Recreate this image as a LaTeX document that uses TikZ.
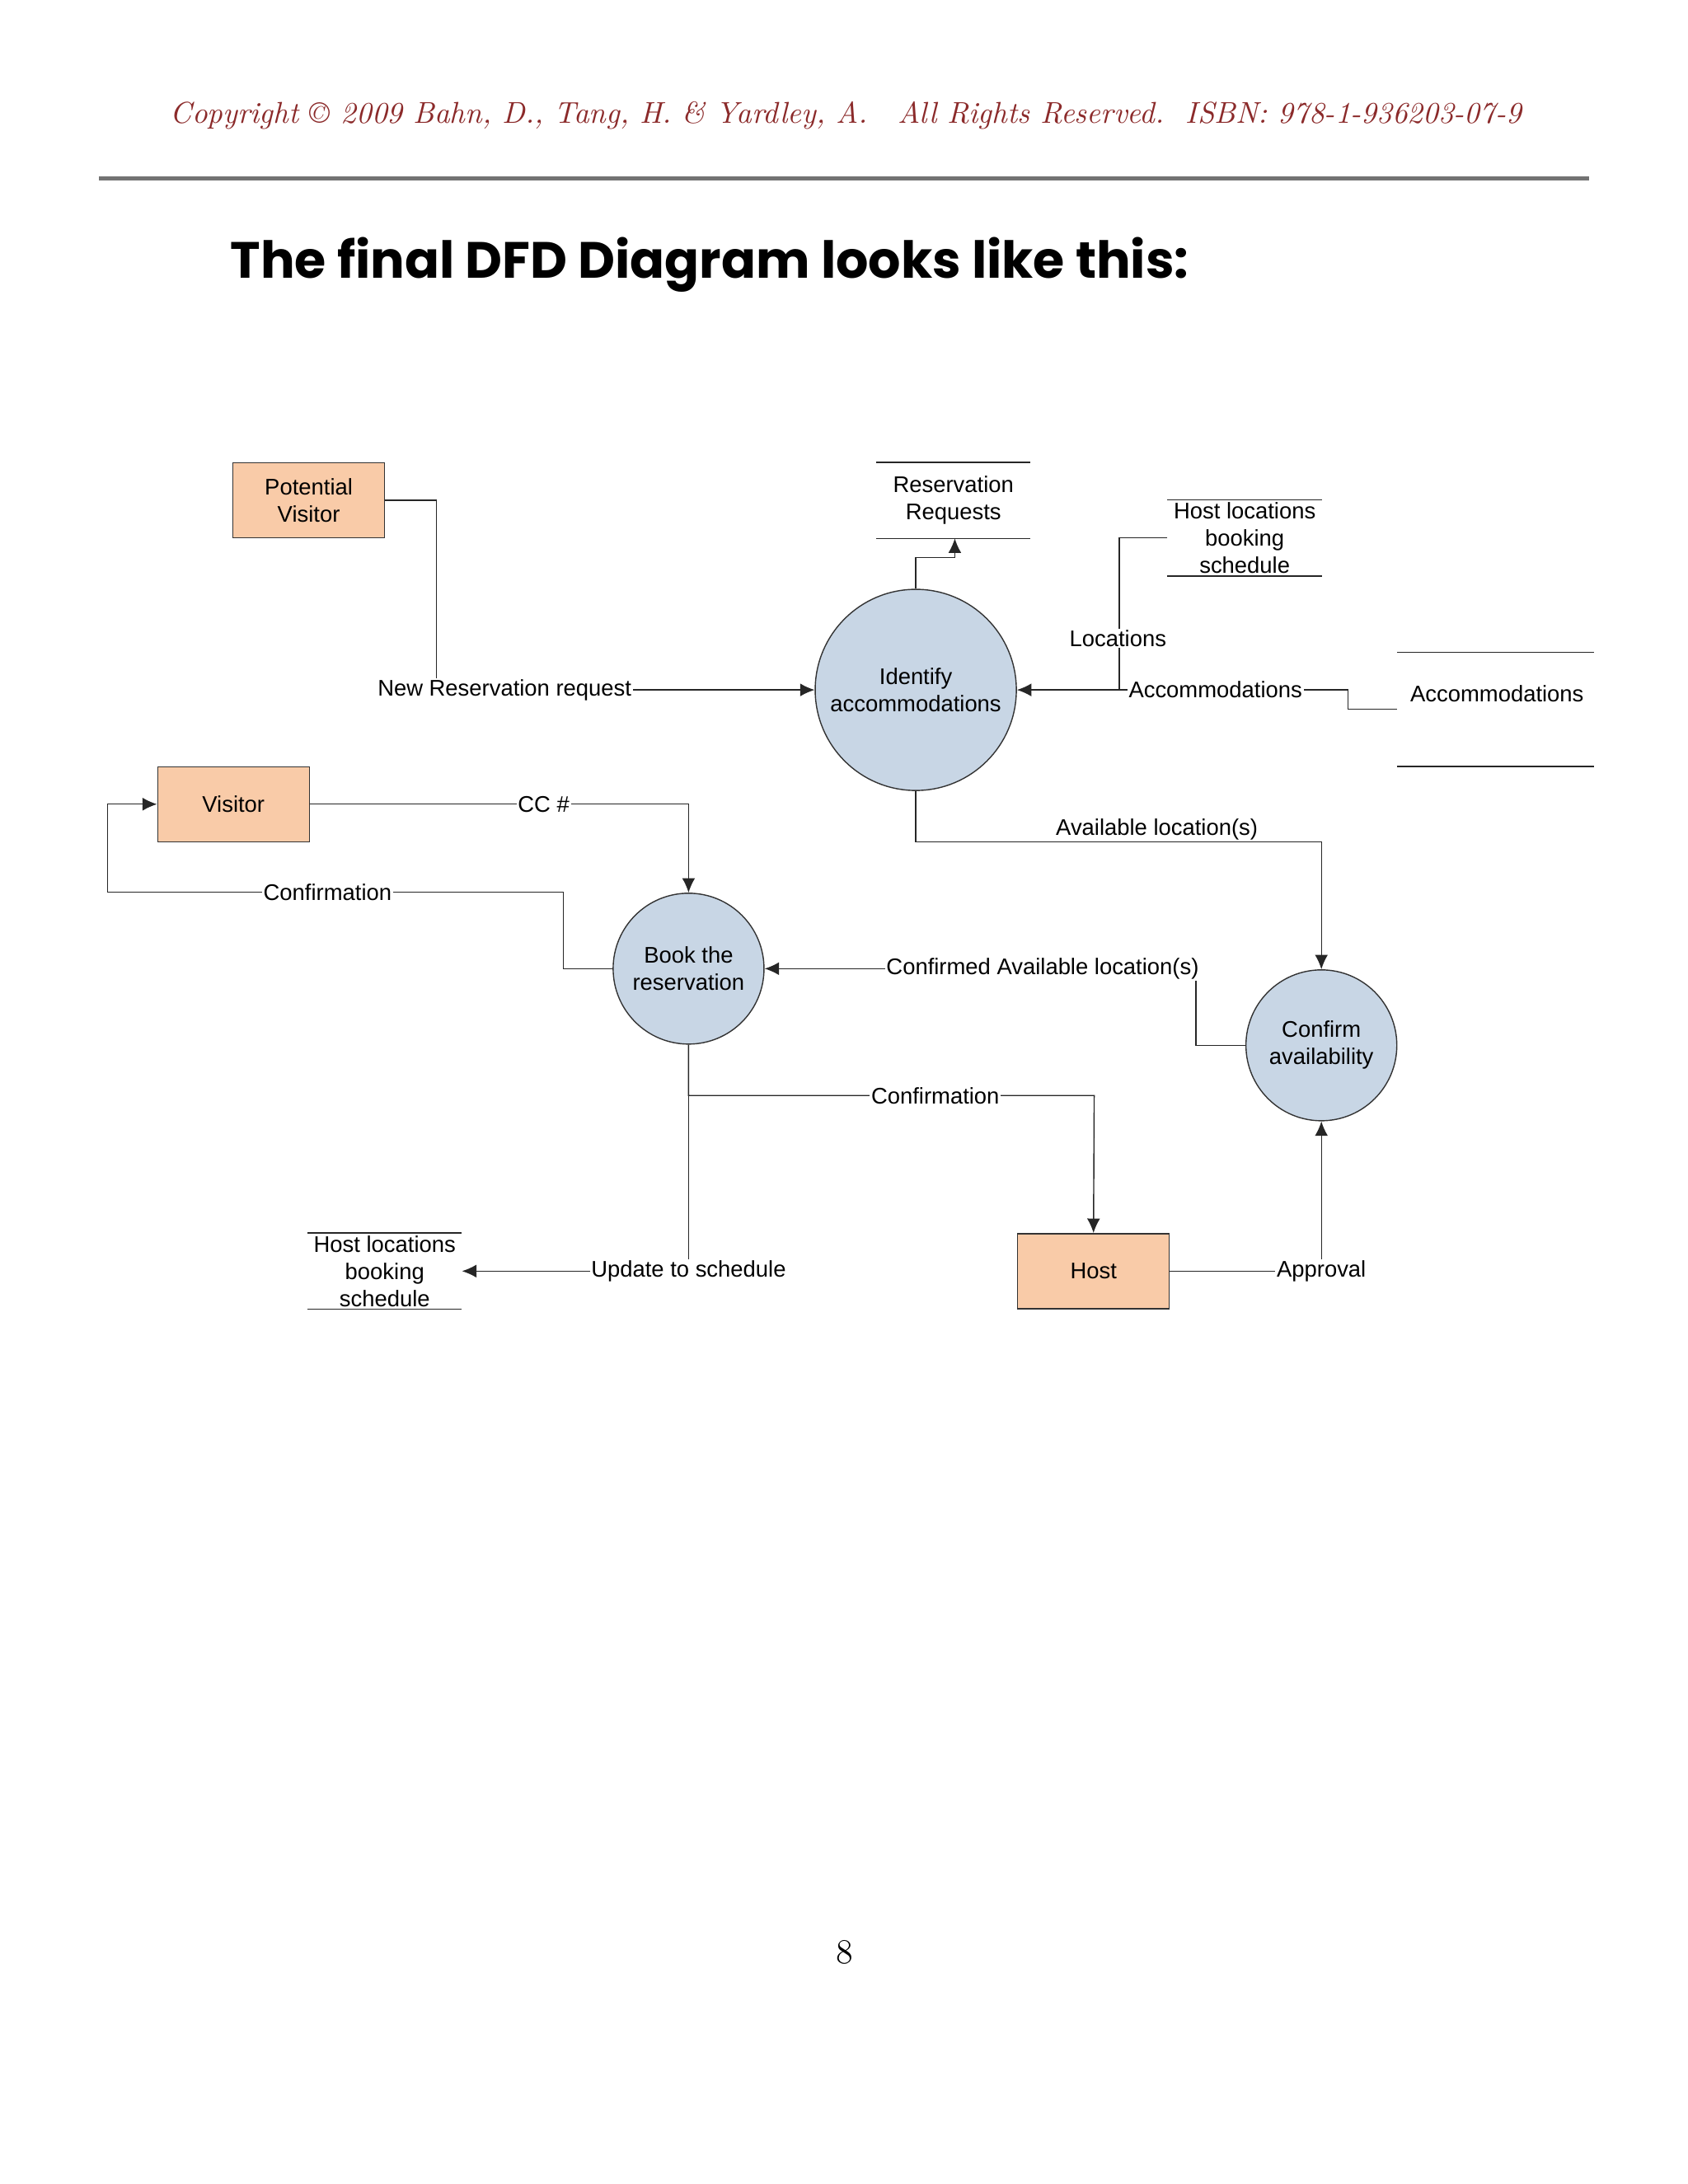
\documentclass[tikz,border=0pt]{standalone}
\usepackage{fontspec}
\setmainfont{Latin Modern Roman}
\newfontfamily\dfdfont{Liberation Sans}
\newfontfamily\titlefont{Poppins}
\usetikzlibrary{arrows.meta}

\definecolor{entityfill}{HTML}{F9CBA8}
\definecolor{processfill}{HTML}{C8D6E5}
\definecolor{headred}{HTML}{8B2A2A}

\tikzset{
  entity/.style={draw=black!80, fill=entityfill, minimum width=1.84cm, minimum height=0.91cm, align=center},
  process/.style={circle, draw=black!80, fill=processfill, align=center, inner sep=0pt},
  store/.style={minimum width=1.86cm, minimum height=0.91cm, align=center, inner sep=0pt},
  flow/.style={draw=black!85, -{Latex[length=5pt,width=4.5pt]}},
  line/.style={draw=black!85},
  lbl/.style={fill=white, inner sep=0.5pt}
}

\begin{document}
\begin{tikzpicture}[x=0.01691cm, y=-0.01691cm]
\tikzstyle{every node}=[font=\dfdfont\fontsize{7.8}{9.4}\selectfont]
\useasboundingbox (0,0) rectangle (1211,1567);

% page header
\node[font=\itshape\fontsize{10.4}{12}\selectfont, text=headred] (copy) at (607,83)
  {Copyright \textcopyright{} 2009 Bahn, D., Tang, H. \& Yardley, A.\quad All Rights Reserved.\ \ ISBN: 978-1-936203-07-9};
\draw[black!55, line width=1.4pt] (71,128) -- (1140,128);
\node[font=\titlefont\bfseries\fontsize{17.6}{20}\selectfont, anchor=west] (title) at (158,190)
  {The final DFD Diagram looks like this:};
\node[font=\rmfamily\fontsize{12}{14}\selectfont] (pagenum) at (606,1401) {8};

% external entities
\node[entity] (potential) at (221.5,359) {Potential\\Visitor};
\node[entity] (visitor) at (167.5,577) {Visitor};
\node[entity] (host) at (784.5,912) {Host};

% processes
\node[process, minimum size=2.44cm] (identify) at (657,495) {Identify\\accommodations};
\node[process, minimum size=1.83cm] (book) at (494,695) {Book the\\reservation};
\node[process, minimum size=1.83cm] (confirm) at (948,750) {Confirm\\availability};

% data stores
\node[store] (requests) at (684,359) {Reservation\\Requests};
\node[store] (schedtop) at (893,386) {Host locations\\booking\\schedule};
\node[store, minimum width=2.38cm, minimum height=1.37cm] (accom) at (1073,509) {};
\node (accomtext) at (1074,498) {Accommodations};
\node[store] (schedbot) at (276,912) {Host locations\\booking\\schedule};
\foreach \s in {requests, schedtop, accom, schedbot}
  \draw[black!85] (\s.north west) -- (\s.north east) (\s.south west) -- (\s.south east);

% coordinates for bends
\coordinate (pvbend) at (313,495);
\coordinate (locbend) at (803,495);
\coordinate (acbend) at (967,495);

% flows
\draw[flow] (potential.east) -| (pvbend) -- (identify.west);
\node[lbl] at (362,495) {New Reservation request};

\draw[flow] (identify.north) |- (685,400) -- (requests.south -| 685,0);

\draw[line] (schedtop.west) -| (locbend);
\draw[flow] (locbend) -- (identify.east);
\node[lbl] at (802,458) {Locations};
\draw[line] (accom.west) -| (acbend) -- (locbend);
\node[lbl] at (872,495) {Accommodations};

\draw[flow] (identify.south) |- (948,604) -- (confirm.north);
\node[lbl] at (830,595) {Available location(s)};

\draw[flow] (visitor.east) -| (book.north);
\node[lbl] at (390,577) {CC \#};

\draw[flow] (book.west) -| (404,640) -| (77,577) -- (visitor.west);
\node[lbl] at (235,640) {Confirmation};

\draw[flow] (confirm.west) -| (858,695) -- (book.east);
\node[lbl] at (748,695) {Confirmed Available location(s)};

\draw[flow] (book.south) |- (785,786) -- (host.north);
\node[lbl] at (671,786) {Confirmation};

\draw[flow] (book.south) |- (schedbot.east);
\node[lbl] at (494,912) {Update to schedule};

\draw[flow] (host.east) -| (confirm.south);
\node[lbl] at (948,912) {Approval};
\end{tikzpicture}
\end{document}
